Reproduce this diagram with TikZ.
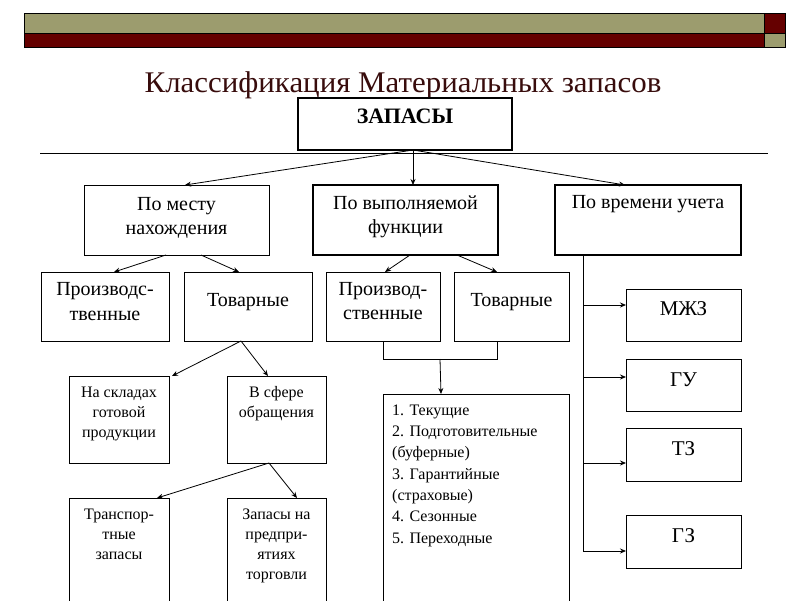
\documentclass[tikz,border=0pt]{standalone}
\usepackage{fontspec}
\setmainfont{Liberation Serif}
\usetikzlibrary{arrows.meta,calc}
\definecolor{olivebar}{HTML}{9C9C6E}
\definecolor{darkbar}{HTML}{650000}
\definecolor{titlecol}{HTML}{380C0C}
\begin{document}
\begin{tikzpicture}[x=1pt,y=-1pt,
  box/.style={draw, line width=1pt, inner sep=0pt, outer sep=0pt},
  thickbox/.style={box, line width=2pt},
  bigtxt/.style={inner sep=0pt, align=center, anchor=base, font=\fontsize{20}{24.5}\selectfont},
  smtxt/.style={inner sep=0pt, align=center, anchor=base, font=\fontsize{16}{20}\selectfont},
  abbr/.style={inner sep=0pt, anchor=base, font=\fontsize{21}{25}\selectfont},
  arr/.style={line width=0.8pt, -{Stealth[length=6pt,width=5pt]}},
  conn/.style={line width=0.8pt}]
\useasboundingbox (0,0) rectangle (800,600);
\fill[white] (0,0) rectangle (800,600);
% header bars
\draw[fill=olivebar, line width=0.6pt] (24,13) rectangle (764,33);
\draw[fill=darkbar, line width=0.6pt] (24,33) rectangle (764,47);
\draw[fill=darkbar, line width=0.6pt] (764,13) rectangle (785,33);
\draw[fill=olivebar, line width=0.6pt] (764,33) rectangle (785,47);
% title
\node[inner sep=0pt, anchor=base, text=titlecol, font=\fontsize{30}{35}\selectfont] (title) at (403,92) {\scalebox{1.03}[1]{Классификация Материальных запасов}};
% rule
\draw[line width=1pt] (40,153) -- (768,153);
% boxes
\node[box, line width=1.6pt, minimum width=214pt, minimum height=52pt] (zap) at (405,124) {};
\node[inner sep=0pt, font=\fontsize{22}{26}\bfseries\selectfont] (zapt) at (405,116) {ЗАПАСЫ};
\node[box, minimum width=185pt, minimum height=70pt] (mesto) at (176.5,220) {};
\node[thickbox, minimum width=185pt, minimum height=70pt] (func) at (405.5,220) {};
\node[thickbox, minimum width=186pt, minimum height=70pt] (vrem) at (648,220) {};
\node[bigtxt] (mestot) at (176.5,234.5) {По месту\\нахождения};
\node[bigtxt] (funct) at (405.5,233.5) {По выполняемой\\функции};
\node[bigtxt] (vremt) at (648,208) {По времени учета};
\node[box, minimum width=128pt, minimum height=69pt] (proizL) at (105,306.5) {};
\node[box, minimum width=128pt, minimum height=69pt] (tovL) at (248,306.5) {};
\node[box, minimum width=114pt, minimum height=69pt] (proizC) at (383,306.5) {};
\node[box, minimum width=115pt, minimum height=69pt] (tovC) at (511.5,306.5) {};
\node[bigtxt] (proizLt) at (105,320) {Производс-\\твенные};
\node[bigtxt] (tovLt) at (248,306) {Товарные};
\node[bigtxt] (proizCt) at (383,319.5) {Производ-\\ственные};
\node[bigtxt] (tovCt) at (511.5,306) {Товарные};
\node[box, minimum width=100pt, minimum height=87pt] (skl) at (119,419.5) {};
\node[box, minimum width=99pt, minimum height=87pt] (sfer) at (276.5,419.5) {};
\node[smtxt] (sklt) at (119,437) {На складах\\готовой\\продукции};
\node[smtxt] (sfert) at (276.5,417) {В сфере\\обращения};
\node[box, minimum width=100pt, minimum height=112pt] (trans) at (119,554) {};
\node[box, minimum width=99pt, minimum height=112pt] (zapn) at (276.5,554) {};
\node[smtxt] (transt) at (119,559) {Транспор-\\тные\\запасы};
\node[smtxt] (zapnt) at (276.5,579) {Запасы на\\предпри-\\ятиях\\торговли};
\node[box, minimum width=186pt, minimum height=216pt] (list) at (476,502) {};
\node[inner sep=0pt, align=left, anchor=base west, font=\fontsize{16}{21.3}\selectfont] (listt) at (392,543) {1. Текущие\\2. Подготовительные\\(буферные)\\3. Гарантийные\\(страховые)\\4. Сезонные\\5. Переходные};
\node[box, minimum width=115pt, minimum height=52pt] (mzh) at (683.5,315) {};
\node[box, minimum width=115pt, minimum height=52pt] (gu) at (683.5,385) {};
\node[box, minimum width=115pt, minimum height=53pt] (tz) at (683.5,454.5) {};
\node[box, minimum width=115pt, minimum height=53pt] (gz) at (683.5,541.5) {};
\node[abbr] (mzht) at (683.5,315) {МЖЗ};
\node[abbr] (gut) at (683.5,386) {ГУ};
\node[abbr] (tzt) at (683.5,455) {ТЗ};
\node[abbr] (gzt) at (683.5,542) {ГЗ};
% connectors
\coordinate (zs) at ($(zap.south)+(8,0)$);
\draw[arr] (zs) -- ($(mesto.north)+(8.5,0)$);
\draw[arr] (zs) -- ($(func.north)+(7.5,0)$);
\draw[arr] (zs) -- ($(vrem.north)+(-23,0)$);
\draw[arr] ($(mesto.south)+(-10.5,0)$) -- ($(proizL.north)+(9,0)$);
\draw[arr] ($(mesto.south)+(24.5,0)$) -- ($(tovL.north)+(-9,0)$);
\draw[arr] ($(func.south)+(4.5,0)$) -- ($(proizC.north)+(2,0)$);
\draw[arr] ($(func.south)+(51.5,0)$) -- ($(tovC.north)+(-14.5,0)$);
\draw[arr] ($(tovL.south)+(-7,0)$) -- ($(skl.north east)+(3,0)$);
\draw[arr] ($(tovL.south)+(-7,0)$) -- ($(sfer.north)+(-8.5,0)$);
\draw[arr] ($(sfer.south)+(-7.5,0)$) -- ($(trans.north)+(38,0)$);
\draw[arr] ($(sfer.south)+(-7.5,0)$) -- ($(zapn.north)+(20.5,0)$);
\coordinate (brL) at ($(proizC.south)+(0,18)$);
\coordinate (brR) at ($(tovC.south)+(-14.5,18)$);
\draw[conn] (proizC.south) -- (brL) -- (brR) -- ($(tovC.south)+(-14.5,0)$);
\draw[arr] ($(brL)!0.5!(brR)$) -- ($(list.north)+(-35,0)$);
\coordinate (vtop) at ($(vrem.south)+(-65,0)$);
\draw[conn] (vtop) -- ($(vtop)+(0,296)$);
\draw[arr] ($(vtop)+(0,50)$) -- ($(mzh.west)+(0,-10)$);
\draw[arr] ($(vtop)+(0,122)$) -- ($(gu.west)+(0,-8)$);
\draw[arr] ($(vtop)+(0,208)$) -- ($(tz.west)+(0,8.5)$);
\draw[arr] ($(vtop)+(0,296)$) -- ($(gz.west)+(0,9.5)$);
\end{tikzpicture}
\end{document}
